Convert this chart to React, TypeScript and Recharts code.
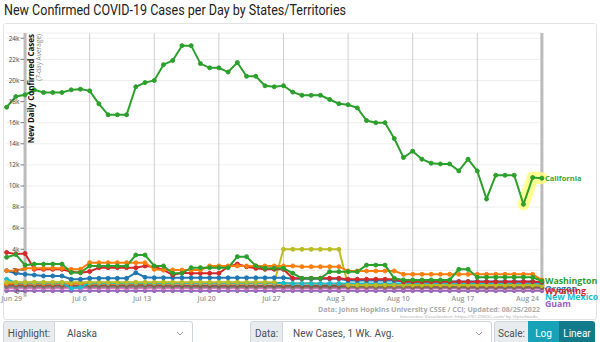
import React from 'react';
import { LineChart, Line, XAxis, YAxis, CartesianGrid, ReferenceLine, LabelList } from 'recharts';

// values in thousands of cases, one per day starting Jun 27
const california = [
  17.47, 18.48, 18.64, 19.11, 18.86, 18.86, 18.86, 19.11, 19.18, 19.02,
  17.79, 16.75, 16.75, 16.75, 19.4, 19.8, 20.0, 21.5, 21.9, 23.3,
  23.3, 21.6, 21.2, 21.2, 20.8, 21.7, 20.4, 20.4, 19.5, 19.4,
  19.5, 18.9, 18.6, 18.6, 18.6, 18.2, 17.8, 17.7, 17.4, 16.2,
  16.0, 16.0, 14.5, 12.7, 13.3, 12.54, 12.16, 12.09, 12.09, 11.43,
  12.54, 11.43, 8.77, 11.02, 11.02, 11.02, 8.27, 10.8, 10.74,
];
const californiaHighlight = [
  null, null, null, null, null, null, null, null, null, null,
  null, null, null, null, null, null, null, null, null, null,
  null, null, null, null, null, null, null, null, null, null,
  null, null, null, null, null, null, null, null, null, null,
  null, null, null, null, null, null, null, null, null, null,
  null, null, null, null, null, null, 8.27, 10.8, 10.74,
];
const washington = [
  3.24, 3.5, 2.5, 2.6, 2.6, 2.6, 2.6, 1.8, 1.8, 2.42,
  2.42, 2.42, 2.42, 2.42, 3.46, 3.46, 2.42, 2.42, 1.73, 1.73,
  2.26, 2.26, 2.26, 2.26, 2.26, 3.3, 3.3, 2.42, 2.2, 2.2,
  2.2, 1.73, 1.25, 1.25, 1.25, 1.88, 1.88, 1.88, 1.88, 2.5,
  2.5, 2.5, 1.25, 1.09, 1.09, 1.09, 1.09, 1.09, 1.09, 2.1,
  2.1, 1.35, 1.35, 1.35, 1.35, 1.35, 1.35, 1.35, 1.0,
];
const wyoming = [
  3.7, 3.56, 3.6, 2.1, 2.1, 2.1, 2.1, 1.88, 1.78, 1.9,
  2.26, 2.26, 2.26, 2.26, 2.26, 2.42, 2.35, 2.04, 1.56, 1.78,
  1.73, 1.73, 1.73, 1.73, 2.35, 2.6, 2.35, 2.2, 2.1, 2.1,
  2.1, 1.25, 1.25, 1.25, 1.25, 1.25, 1.25, 1.16, 1.16, 1.16,
  1.16, 1.16, 1.16, 0.93, 0.93, 0.93, 0.93, 0.93, 0.93, 0.93,
  0.93, 0.93, 0.93, 0.93, 0.93, 0.93, 0.93, 0.93, 0.9,
];
const orangeState = [
  1.97, 2.0, 2.2, 2.2, 2.2, 2.2, 2.2, 2.1, 2.1, 2.73,
  2.73, 2.73, 2.73, 2.73, 2.73, 2.73, 2.1, 2.04, 2.04, 2.04,
  2.04, 2.04, 2.42, 2.42, 2.42, 2.42, 2.42, 2.42, 2.42, 2.42,
  2.42, 2.42, 2.35, 2.35, 2.35, 2.35, 2.35, 1.94, 1.94, 1.94,
  1.94, 1.94, 1.94, 1.63, 1.63, 1.63, 1.63, 1.63, 1.63, 1.63,
  1.63, 1.63, 1.63, 1.63, 1.63, 1.63, 1.63, 1.63, 1.09,
];
const oregon = [
  1.97, 1.73, 1.63, 1.56, 1.47, 1.47, 1.47, 1.16, 1.16, 1.25,
  1.25, 1.25, 1.25, 1.25, 1.78, 1.35, 1.3, 1.3, 1.3, 1.3,
  1.3, 1.3, 1.3, 1.3, 1.3, 1.3, 1.3, 1.3, 1.3, 1.3,
  1.3, 1.2, 1.2, 1.2, 1.2, 1.2, 1.2, 1.05, 1.05, 1.05,
  1.05, 1.05, 1.05, 0.95, 0.95, 0.95, 0.95, 0.95, 0.95, 0.95,
  0.95, 0.95, 0.95, 0.95, 0.95, 0.95, 0.95, 0.95, 0.85,
];
const newMexico = [
  1.16, 0.83, 0.83, 0.83, 0.83, 0.83, 0.83, 0.3, 0.4, 0.8,
  0.8, 0.8, 0.8, 0.8, 0.8, 0.8, 0.8, 0.8, 0.8, 0.8,
  0.8, 0.8, 0.8, 0.8, 0.8, 0.8, 0.8, 0.8, 0.8, 0.8,
  0.8, 0.75, 0.75, 0.75, 0.75, 0.75, 0.75, 0.75, 0.75, 0.75,
  0.75, 0.75, 0.75, 0.75, 0.75, 0.75, 0.75, 0.75, 0.75, 0.75,
  0.75, 0.75, 0.75, 0.75, 0.75, 0.75, 0.75, 0.75, 0.7,
];
const oliveState = [
  0.88, 0.88, 0.88, 0.88, 0.88, 0.88, 0.88, 0.88, 0.88, 0.88,
  0.88, 0.88, 0.88, 0.88, 0.88, 0.88, 0.88, 0.88, 0.88, 0.88,
  0.88, 0.88, 0.88, 0.88, 0.88, 0.88, 0.88, 0.88, 0.88, 0.88,
  4.0, 4.0, 4.0, 4.0, 4.0, 4.0, 4.0, 0.6, 0.6, 0.6,
  0.6, 0.6, 0.6, 0.6, 0.6, 0.6, 0.6, 0.6, 0.6, 0.6,
  0.6, 0.6, 0.6, 0.6, 0.6, 0.6, 0.6, 0.6, 0.55,
];
const orangeLow = [
  0.75, 0.75, 0.75, 0.75, 0.75, 0.75, 0.75, 0.75, 0.75, 0.75,
  0.75, 0.75, 0.75, 0.75, 0.75, 0.75, 0.75, 0.75, 0.75, 0.75,
  0.75, 0.75, 0.75, 0.75, 0.75, 0.75, 0.75, 0.75, 0.75, 0.75,
  0.75, 0.75, 0.75, 0.75, 0.72, 0.72, 0.72, 0.7, 0.7, 0.7,
  0.7, 0.7, 0.7, 0.68, 0.68, 0.68, 0.68, 0.68, 0.68, 0.68,
  0.68, 0.65, 0.65, 0.65, 0.65, 0.65, 0.65, 0.65, 0.6,
];
const brownState = [
  0.62, 0.62, 0.6, 0.6, 0.6, 0.6, 0.6, 0.58, 0.58, 0.6,
  0.6, 0.6, 0.6, 0.6, 0.62, 0.62, 0.6, 0.6, 0.58, 0.58,
  0.58, 0.58, 0.56, 0.56, 0.56, 0.56, 0.56, 0.55, 0.55, 0.55,
  0.55, 0.55, 0.52, 0.52, 0.52, 0.52, 0.52, 0.5, 0.5, 0.5,
  0.5, 0.5, 0.5, 0.5, 0.48, 0.48, 0.48, 0.48, 0.48, 0.48,
  0.46, 0.46, 0.46, 0.46, 0.46, 0.46, 0.46, 0.45, 0.42,
];
const grayState = [
  0.45, 0.45, 0.45, 0.45, 0.45, 0.45, 0.45, 0.45, 0.45, 0.45,
  0.45, 0.45, 0.45, 0.45, 0.45, 0.45, 0.45, 0.45, 0.45, 0.45,
  0.42, 0.42, 0.42, 0.42, 0.42, 0.42, 0.42, 0.42, 0.42, 0.42,
  0.42, 0.4, 0.4, 0.4, 0.4, 0.4, 0.4, 0.4, 0.4, 0.4,
  0.38, 0.38, 0.38, 0.38, 0.38, 0.38, 0.38, 0.38, 0.38, 0.38,
  0.36, 0.36, 0.36, 0.36, 0.36, 0.36, 0.36, 0.36, 0.34,
];
const pinkState = [
  0.33, 0.33, 0.33, 0.33, 0.33, 0.33, 0.33, 0.33, 0.33, 0.33,
  0.33, 0.33, 0.33, 0.33, 0.33, 0.33, 0.33, 0.33, 0.33, 0.33,
  0.32, 0.32, 0.32, 0.32, 0.32, 0.32, 0.32, 0.32, 0.32, 0.32,
  0.3, 0.3, 0.3, 0.3, 0.3, 0.3, 0.3, 0.3, 0.3, 0.3,
  0.3, 0.3, 0.3, 0.3, 0.3, 0.3, 0.3, 0.3, 0.3, 0.3,
  0.28, 0.28, 0.28, 0.28, 0.28, 0.28, 0.28, 0.28, 0.27,
];
const guam = [
  0.08, 0.08, 0.08, 0.08, 0.08, 0.08, 0.08, 0.08, 0.08, 0.08,
  0.08, 0.08, 0.08, 0.08, 0.08, 0.08, 0.08, 0.08, 0.08, 0.08,
  0.08, 0.08, 0.08, 0.08, 0.08, 0.08, 0.08, 0.08, 0.08, 0.08,
  0.08, 0.08, 0.08, 0.08, 0.08, 0.08, 0.08, 0.08, 0.08, 0.08,
  0.08, 0.08, 0.08, 0.08, 0.08, 0.08, 0.08, 0.08, 0.08, 0.08,
  0.08, 0.08, 0.08, 0.08, 0.08, 0.08, 0.08, 0.08, 0.08,
];

const weekTicks = [2, 9, 16, 23, 30, 37, 44, 51, 58];
const weekTickLabels = ['Jun 29', 'Jul 6', 'Jul 13', 'Jul 20', 'Jul 27', 'Aug 3', 'Aug 10', 'Aug 17', 'Aug 24'];
const innerWeeks = [9, 16, 23, 30, 37, 44, 51];
const yTicks = [0, 2, 4, 6, 8, 10, 12, 14, 16, 18, 20, 22, 24];
const yTickLabels = ['0', '2k', '4k', '6k', '8k', '10k', '12k', '14k', '16k', '18k', '20k', '22k', '24k'];

const data = california.map((v, i) => ({
  day: i,
  california: v,
  californiaHighlight: californiaHighlight[i],
  washington: washington[i],
  wyoming: wyoming[i],
  orangeState: orangeState[i],
  oregon: oregon[i],
  newMexico: newMexico[i],
  oliveState: oliveState[i],
  orangeLow: orangeLow[i],
  brownState: brownState[i],
  grayState: grayState[i],
  pinkState: pinkState[i],
  guam: guam[i],
}));

const FONT = '"Open Sans", Roboto, sans-serif';

const series = [
  { key: 'guam', color: '#9467bd', label: 'Guam', dy: 13 },
  { key: 'pinkState', color: '#e377c2' },
  { key: 'grayState', color: '#7f7f7f' },
  { key: 'brownState', color: '#8c564b' },
  { key: 'orangeLow', color: '#ff7f0e' },
  { key: 'newMexico', color: '#17becf', label: 'New Mexico', dy: 13 },
  { key: 'oliveState', color: '#bcbd22' },
  { key: 'oregon', color: '#1f77b4', label: 'Oregon', dy: 6 },
  { key: 'wyoming', color: '#d62728', label: 'Wyoming', dy: 9 },
  { key: 'orangeState', color: '#ff7f0e' },
  { key: 'washington', color: '#2ca02c', label: 'Washington', dy: 0 },
];

const lastIndex = california.length - 1;

function endLabel(text: string, color: string, dy: number, size: number) {
  return (props: any) => {
    if (props.index !== lastIndex) return null;
    return (
      <text x={props.x + 3} y={props.y + dy + size * 0.35} fill={color} fontSize={size}
        fontWeight={700} fontFamily={FONT}>{text}</text>
    );
  };
}

const YTick = (props: any) => {
  const { y, payload } = props;
  const idx = yTicks.indexOf(payload.value);
  return (
    <g>
      <text x={19.5} y={y + 2.3} textAnchor="end" fontSize={6.5} fill="#444" fontFamily={FONT}>
        {yTickLabels[idx]}
      </text>
      <line x1={20.5} x2={24} y1={y} y2={y} stroke="#666" strokeWidth={0.8} />
    </g>
  );
};

const XTick = (props: any) => {
  const { x, y, payload } = props;
  const idx = weekTicks.indexOf(payload.value);
  return (
    <text x={x - 3} y={y + 1} textAnchor="end" fontSize={7} fontWeight={600} fill="#999" fontFamily={FONT}>
      {weekTickLabels[idx]}
    </text>
  );
};

export default function App() {
  return (
    <div style={{ position: 'absolute', left: 0, top: 0, width: 600, height: 342, overflow: 'hidden', background: '#fff', fontFamily: FONT }}>
      <div style={{ position: 'absolute', left: 3, top: 23, width: 592, height: 295, border: '1px solid #e3e3e3', borderRadius: 3 }} />
      <div style={{ position: 'absolute', left: 0, top: 0 }}>
        <LineChart width={600} height={320} data={data} margin={{ top: 33, right: 58.1, bottom: 8.5, left: 5.6 }}>
          <CartesianGrid vertical={false} stroke="#eee" />
          <XAxis dataKey="day" type="number" domain={[0, 58]} ticks={weekTicks} tick={<XTick />}
            axisLine={false} tickLine={false} height={20} interval={0} />
          <YAxis type="number" domain={[0, 24.5]} ticks={yTicks} width={1} tick={<YTick />}
            axisLine={false} tickLine={false} interval={0} />
          {innerWeeks.map((w) => (
            <ReferenceLine key={w} x={w} stroke="#cfcfcf" strokeWidth={1} />
          ))}
          <ReferenceLine segment={[{ x: 2, y: -0.5 }, { x: 2, y: 24.5 }]} stroke="#bbb" strokeWidth={3} ifOverflow="visible" />
          <ReferenceLine segment={[{ x: 58, y: 0 }, { x: 58, y: 24.5 }]} stroke="#bbb" strokeWidth={3} ifOverflow="visible" />
          {series.map((s) => (
            <Line key={s.key} dataKey={s.key} stroke={s.color} strokeWidth={2} isAnimationActive={false}
              dot={{ r: 2, fill: s.color, stroke: s.color, strokeWidth: 1 }}>
              {s.label ? <LabelList dataKey={s.key} content={endLabel(s.label, s.color, s.dy, 8.8)} /> : null}
            </Line>
          ))}
          <Line dataKey="californiaHighlight" stroke="#ffff70" strokeOpacity={0.75} strokeWidth={12}
            strokeLinecap="round" strokeLinejoin="round" dot={false} isAnimationActive={false} />
          <Line dataKey="california" stroke="#2ca02c" strokeWidth={2} isAnimationActive={false}
            dot={{ r: 2, fill: '#2ca02c', stroke: '#2ca02c', strokeWidth: 1 }}>
            <LabelList dataKey="california" content={endLabel('California', '#3aa63a', 0, 7.5)} />
          </Line>
        </LineChart>
      </div>
      <svg width={600} height={342} style={{ position: 'absolute', left: 0, top: 0, pointerEvents: 'none' }}>
        <text x={4} y={15} fontSize={14} fill="#222" fontFamily="Roboto, sans-serif" textLength={342} lengthAdjust="spacingAndGlyphs">
          New Confirmed COVID-19 Cases per Day by States/Territories
        </text>
        <text transform="translate(33.5,34) rotate(-90)" textAnchor="end" fontSize={8} fontWeight={700} fill="#111" fontFamily={FONT}>
          New Daily Confirmed Cases
        </text>
        <text transform="translate(40.5,34) rotate(-90)" textAnchor="end" fontSize={6.5} fill="#888" fontFamily={FONT}>
          (7-day Average)
        </text>
        <text x={318} y={311.5} fontSize={7.4} fontWeight={700} fill="#aaa" fontFamily={FONT} textLength={222} lengthAdjust="spacingAndGlyphs">
          Data: Johns Hopkins University CSSE / CCI; Updated: 08/25/2022
        </text>
        <text x={400} y={317.5} fontSize={4.3} fill="#aaa" fontFamily={FONT} textLength={140} lengthAdjust="spacingAndGlyphs">
          Interactive Visualization: https://91-DIVOC.com/ by @profwade_
        </text>
      </svg>
      <div style={{ position: 'absolute', top: 321, left: 0, width: 600, height: 24, fontSize: 10, color: '#495057', fontFamily: 'Roboto, sans-serif' }}>
        <div style={{ position: 'absolute', left: 3, top: 0, width: 50, height: 22, background: '#e9ecef', border: '1px solid #ced4da', borderRadius: '3px 0 0 3px', display: 'flex', alignItems: 'center', justifyContent: 'center' }}>Highlight:</div>
        <div style={{ position: 'absolute', left: 54, top: 0, width: 139, height: 24, background: '#fff', border: '1px solid #ced4da', borderRadius: '0 3px 3px 0', display: 'flex', alignItems: 'center', paddingLeft: 12, boxSizing: 'border-box' }}>
          Alaska
          <svg width={8} height={6} style={{ position: 'absolute', right: 8, top: 9 }}><polyline points="1,1 4,4 7,1" fill="none" stroke="#999" strokeWidth={1} /></svg>
        </div>
        <div style={{ position: 'absolute', left: 250, top: 0, width: 31, height: 22, background: '#e9ecef', border: '1px solid #ced4da', borderRadius: '3px 0 0 3px', display: 'flex', alignItems: 'center', justifyContent: 'center' }}>Data:</div>
        <div style={{ position: 'absolute', left: 282, top: 0, width: 210, height: 24, background: '#fff', border: '1px solid #ced4da', borderRadius: '0 3px 3px 0', display: 'flex', alignItems: 'center', paddingLeft: 10, boxSizing: 'border-box' }}>
          New Cases, 1 Wk. Avg.
          <svg width={8} height={6} style={{ position: 'absolute', right: 8, top: 9 }}><polyline points="1,1 4,4 7,1" fill="none" stroke="#999" strokeWidth={1} /></svg>
        </div>
        <div style={{ position: 'absolute', left: 494, top: 0, width: 33, height: 22, background: '#e9ecef', border: '1px solid #ced4da', borderRadius: '3px 0 0 3px', display: 'flex', alignItems: 'center', justifyContent: 'center' }}>Scale:</div>
        <div style={{ position: 'absolute', left: 528, top: 0, width: 31, height: 24, background: '#17a2b8', color: '#fff', display: 'flex', alignItems: 'center', justifyContent: 'center' }}>Log</div>
        <div style={{ position: 'absolute', left: 559, top: 0, width: 36, height: 24, background: '#117a8b', color: '#fff', borderRadius: '0 3px 3px 0', display: 'flex', alignItems: 'center', justifyContent: 'center' }}>Linear</div>
      </div>
    </div>
  );
}
